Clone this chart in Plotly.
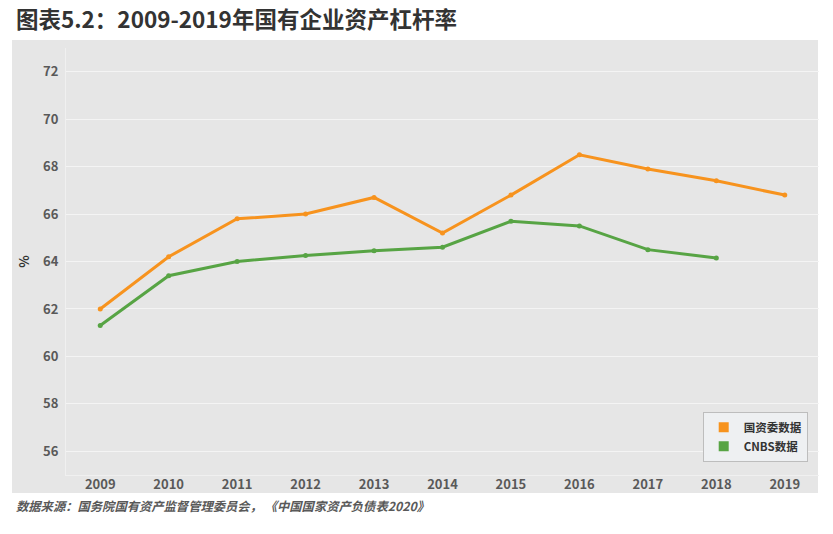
import plotly.graph_objects as go

years = ["2009", "2010", "2011", "2012", "2013", "2014", "2015", "2016", "2017", "2018", "2019"]
sasac = [62.0, 64.2, 65.8, 66.0, 66.7, 65.2, 66.8, 68.5, 67.9, 67.4, 66.8]
cnbs = [61.3, 63.4, 64.0, 64.25, 64.45, 64.6, 65.7, 65.5, 64.5, 64.15, None]
y_ticks = [56, 58, 60, 62, 64, 66, 68, 70, 72]
names = ["国资委数据", "CNBS数据"]
colors = ["#F7931E", "#57A444"]

FONT = "Noto Sans CJK SC"
fig = go.Figure()
for vals, name, col in zip([sasac, cnbs], names, colors):
    fig.add_trace(go.Scatter(x=years, y=vals, mode="lines+markers", name=name, showlegend=False,
                             line=dict(color=col, width=3), marker=dict(size=5, color=col)))
for name, col in zip(names, colors):
    fig.add_trace(go.Scatter(x=[None], y=[None], mode="markers", name=name, showlegend=True,
                             marker=dict(symbol="square", size=10, color=col)))

fig.update_layout(
    width=833, height=534,
    margin=dict(l=66, r=14, t=48, b=59),
    paper_bgcolor="white", plot_bgcolor="rgba(0,0,0,0)",
    font=dict(family=FONT, color="#595959"),
    showlegend=True,
    legend=dict(x=0.985, y=0.148, xanchor="right", yanchor="top",
                bgcolor="#EEF0F2", bordercolor="#BDBDBD", borderwidth=1,
                font=dict(size=11.5, color="#333333", family=FONT, weight="bold"),
                itemwidth=30, tracegroupgap=0, traceorder="normal"),
    shapes=[dict(type="rect", xref="paper", yref="paper", x0=-0.0717, x1=0.9987,
                 y0=-0.0422, y1=1.0187, fillcolor="#E6E6E6", line=dict(width=0), layer="below")],
    annotations=[
        dict(text="<b>图表5.2：2009-2019年国有企业资产杠杆率</b>", xref="paper", yref="paper",
             x=-0.069, y=1.070, xanchor="left", yanchor="middle", showarrow=False,
             font=dict(size=22.5, color="#333333", family=FONT)),
        dict(text="<b><i>数据来源：国务院国有资产监督管理委员会， 《中国国家资产负债表2020》</i></b>",
             xref="paper", yref="paper", x=-0.069, y=-0.0725, xanchor="left", yanchor="middle",
             showarrow=False, font=dict(size=12.3, color="#595959", family=FONT)),
    ],
)
fig.update_xaxes(type="category", range=[-0.5, 10.5], showgrid=False, zeroline=False,
                 showline=True, linecolor="#F0F0F0", linewidth=1,
                 tickfont=dict(size=13, color="#595959", family=FONT, weight="bold"),
                 ticklabelstandoff=-3)
fig.update_yaxes(range=[55, 73], tickvals=y_ticks, showgrid=True, gridcolor="#F4F4F4", gridwidth=1,
                 zeroline=False, showline=True, linecolor="#F0F0F0", linewidth=1,
                 title=dict(text="<b>%</b>", standoff=10, font=dict(size=13, color="#333333", family=FONT)),
                 tickfont=dict(size=13, color="#595959", family=FONT, weight="bold"),
                 ticklabelstandoff=4)

fig.write_html("out.html")
